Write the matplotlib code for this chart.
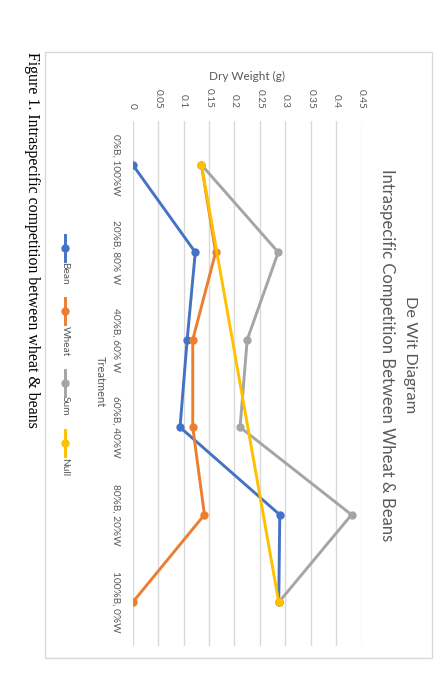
import matplotlib
matplotlib.use("Agg")
import matplotlib.pyplot as plt
from matplotlib.patches import Rectangle
from matplotlib.lines import Line2D
import numpy as np

treatments = ["0%B, 100%W", "20%B, 80% W", "40%B, 60% W",
              "60%B, 40%W", "80%B, 20%W", "100%B, 0%W"]
bean = [0.0, 0.123, 0.107, 0.093, 0.289, 0.287]
wheat = [0.135, 0.163, 0.118, 0.118, 0.141, 0.0]
total = [0.135, 0.286, 0.225, 0.211, 0.430, 0.287]
null = [0.135, None, None, None, None, 0.287]
xticks = [0, 0.05, 0.1, 0.15, 0.2, 0.25, 0.3, 0.35, 0.4, 0.45]

colors = {"Bean": "#4472C4", "Wheat": "#ED7D31", "Sum": "#A5A5A5", "Null": "#FFC000"}
grey = "#595959"
plt.rcParams['font.family'] = ['Lato', 'DejaVu Sans']

W, H = 446, 700
fig = plt.figure(figsize=(W / 100, H / 100), dpi=100)

def fx(px):
    return px / W

def fy(py):
    return 1 - py / H

# chart border
fig.patches.append(Rectangle((fx(45), fy(658)), fx(432) - fx(45), fy(52) - fy(658),
                             transform=fig.transFigure, fill=False,
                             edgecolor="#D9D9D9", lw=1))

ax = fig.add_axes([fx(132.7), fy(646), fx(361.7) - fx(132.7), fy(121) - fy(646)])
ax.set_xlim(0, 0.45)
ax.set_ylim(5.5, -0.5)
for s in ax.spines.values():
    s.set_visible(False)
ax.set_xticks(xticks)
ax.set_xticklabels([f"{t:g}" for t in xticks], rotation=-90, color=grey, fontsize=7.3)
ax.xaxis.tick_top()
ax.tick_params(axis="x", length=0, pad=9)
ax.grid(axis="x", color="#D9D9D9", lw=1)
ax.set_axisbelow(True)
ax.set_yticks(range(len(treatments)))
ax.set_yticklabels(treatments, rotation=-90, va="center", color=grey, fontsize=7.3)
ax.tick_params(axis="y", length=0, pad=9)

pos = np.arange(len(treatments))
series = [("Bean", bean), ("Wheat", wheat), ("Sum", total)]
for name, vals in series:
    ax.plot(vals, pos, color=colors[name], lw=2.1, marker="o", ms=5, zorder=3)
nx = [v for v in null if v is not None]
ny = [p for p, v in zip(pos, null) if v is not None]
ax.plot(nx, ny, color=colors["Null"], lw=2.1, marker="o", ms=5, zorder=4)

# titles and axis titles
fig.text(fx(410), fy(355), "De Wit Diagram", rotation=-90, ha="center", va="center",
         color=grey, fontsize=11.8)
fig.text(fx(387), fy(355), "Intraspecific Competition Between Wheat & Beans",
         rotation=-90, ha="center", va="center", color=grey, fontsize=12)
fig.text(fx(247), fy(76), "Dry Weight (g)", ha="center", va="center",
         color=grey, fontsize=8.5)
fig.text(fx(100), fy(382), "Treatment", rotation=-90, ha="center", va="center",
         color=grey, fontsize=8)

# legend
legend = [("Bean", 247.7, 262), ("Wheat", 311, 326), ("Sum", 383, 396), ("Null", 443, 458)]
for name, my, ty in legend:
    fig.lines.append(Line2D([fx(65), fx(65)], [fy(my - 13), fy(my + 13)],
                            transform=fig.transFigure, color=colors[name], lw=2.1))
    fig.lines.append(Line2D([fx(65)], [fy(my)], transform=fig.transFigure,
                            color=colors[name], marker="o", ms=5))
    fig.text(fx(65), fy(ty), name, rotation=-90, ha="center", va="top",
             color=grey, fontsize=7.3)

# caption
fig.text(fx(32), fy(52), "Figure 1. Intraspecific competition between wheat & beans",
         rotation=-90, ha="center", va="top", color="black", fontsize=11.4,
         family=["Liberation Serif", "DejaVu Serif"])

fig.savefig("out.png", dpi=100)
